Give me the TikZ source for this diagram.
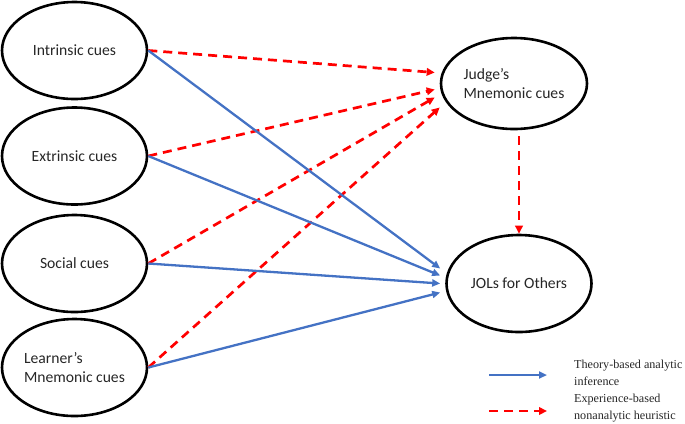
\documentclass[tikz,border=0pt]{standalone}
\usepackage{fontspec}
\setmainfont{Carlito}
\newfontfamily\legendfont{Liberation Serif}
\usetikzlibrary{shapes.geometric,arrows.meta}
\definecolor{infblue}{RGB}{68,114,196}
\begin{document}
\begin{tikzpicture}[x=1bp, y=-1bp, line width=2.3bp, font=\fontsize{15.7}{18.5}\selectfont,
  cue/.style={ellipse, draw, line width=2.6bp, minimum width=145bp, minimum height=97bp, inner sep=0pt, align=left, text=black!85},
  infer/.style={infblue, -{Triangle[length=8bp,width=7bp]}},
  heur/.style={red, line width=2.7bp, dash pattern=on 9bp off 6bp, -{Triangle[length=8bp,width=7.5bp]}}]
  \useasboundingbox (0,0) rectangle (685,423);
  % cues on the left
  \node[cue] (intr) at (74.5,50.5) {Intrinsic cues};
  \node[cue] (extr) at (74.5,156) {Extrinsic cues};
  \node[cue] (social) at (74.5,263.5) {Social cues};
  \node[cue] (learner) at (74.5,367.5) {Learner’s\\Mnemonic cues};
  % judgements on the right
  \node[cue, minimum width=146bp, minimum height=91bp] (judge) at (514,83.5) {Judge’s\\Mnemonic cues};
  \node[cue] (jols) at (519,283.5) {JOLs for Others};
  % experience-based paths
  \draw[heur] (intr.east) -- ([shift={(-5,-11)}]judge.west);
  \draw[heur] (extr.east) -- ([shift={(-5,6)}]judge.west);
  \draw[heur] (social.east) -- ([shift={(-5,14)}]judge.west);
  \draw[heur] (learner.east) -- ([shift={(0,24)}]judge.west);
  \draw[heur, shorten <=6bp] (judge.south -| jols.north) -- (jols.north);
  % theory-based paths
  \draw[infer] (intr.east) -- ([shift={(-5,-15)}]jols.west);
  \draw[infer] (extr.east) -- ([shift={(-5,-8)}]jols.west);
  \draw[infer] (social.east) -- ([shift={(-5,0)}]jols.west);
  \draw[infer] (learner.east) -- ([shift={(-5,9)}]jols.west);
  % legend
  \coordinate (infA) at (489,375);
  \coordinate (infB) at (547,375);
  \coordinate (heuA) at (489,411);
  \coordinate (heuB) at (547,411);
  \draw[infer] (infA) -- (infB);
  \draw[heur] (heuA) -- (heuB);
  \node[anchor=west, align=left, inner sep=0pt, font=\legendfont\fontsize{12.2}{16.5}\selectfont, text=black!85] (infT) at (573,373) {Theory-based analytic\\inference};
  \node[anchor=west, align=left, inner sep=0pt, font=\legendfont\fontsize{12.2}{16.5}\selectfont, text=black!85] (heuT) at (573,408) {Experience-based\\nonanalytic heuristic};
\end{tikzpicture}
\end{document}
